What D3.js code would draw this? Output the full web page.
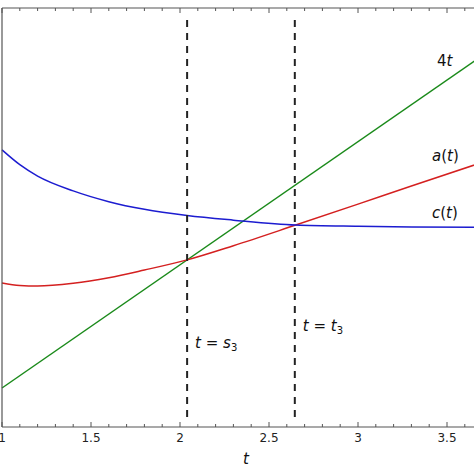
<!DOCTYPE html><html><head><meta charset="utf-8">
<script src="https://cdn.jsdelivr.net/npm/d3@7"></script>
<style>body{margin:0;background:#fff}text{font-family:"DejaVu Sans",sans-serif}</style></head><body>
<svg id="c" width="474" height="474"></svg>
<script>
const tA = [1,1.1,1.2,1.4,1.6,1.8,2.04,2.3,2.65,3.0,3.3,3.7];
const aVals = [7.41,7.33,7.31,7.40,7.58,7.83,8.16,8.62,9.29,9.97,10.56,11.33];
const cVals = [11.73,11.25,10.88,10.40,10.05,9.80,9.60,9.45,9.29,9.25,9.23,9.22];
const lineT = [1,3.7];
const xTicks = [1,1.5,2,2.5,3,3.5];
const vLines = [{t:2.04,label:"s"},{t:2.645,label:"t"}];

const svg = d3.select("#c");
const x = d3.scaleLinear().domain([1,3.5]).range([2,447]);
const y = d3.scaleLinear().domain([4,16]).range([388,18.4]);
const yTop=8, yBot=427;
svg.append("clipPath").attr("id","cp").append("rect").attr("x",0).attr("y",yTop).attr("width",474).attr("height",yBot-yTop);
const line = d3.line().x(d=>x(d[0])).y(d=>y(d[1])).curve(d3.curveMonotoneX);
const pl = svg.append("g").attr("clip-path","url(#cp)");
pl.append("path").attr("d",line(lineT.map(t=>[t,4*t]))).attr("stroke","#1a8a1a").attr("fill","none").attr("stroke-width",1.5);
pl.append("path").attr("d",line(tA.map((t,i)=>[t,aVals[i]]))).attr("stroke","#d42020").attr("fill","none").attr("stroke-width",1.5);
pl.append("path").attr("d",line(tA.map((t,i)=>[t,cVals[i]]))).attr("stroke","#1c1cd0").attr("fill","none").attr("stroke-width",1.5);
vLines.forEach(v=>{
  svg.append("line").attr("x1",x(v.t)).attr("x2",x(v.t)).attr("y1",yTop+12).attr("y2",yBot-8)
    .attr("stroke","#222").attr("stroke-width",2).attr("stroke-dasharray","7,6");
});
svg.append("line").attr("x1",2).attr("x2",474).attr("y1",yTop).attr("y2",yTop).attr("stroke","#555").attr("stroke-width",1.2);
svg.append("line").attr("x1",2).attr("x2",474).attr("y1",yBot).attr("y2",yBot).attr("stroke","#555").attr("stroke-width",1.2);
svg.append("line").attr("x1",2).attr("x2",2).attr("y1",yTop).attr("y2",yBot).attr("stroke","#555").attr("stroke-width",1.2);
const minor = d3.range(10,37).map(d=>d/10);
minor.forEach(t=>{
  const major = xTicks.some(m=>Math.abs(m-t)<1e-9);
  const l = major?5:3;
  svg.append("line").attr("x1",x(t)).attr("x2",x(t)).attr("y1",yBot).attr("y2",yBot-l).attr("stroke","#555");
  svg.append("line").attr("x1",x(t)).attr("x2",x(t)).attr("y1",yTop).attr("y2",yTop+l).attr("stroke","#555");
});
xTicks.forEach(t=>svg.append("text").attr("x",x(t)).attr("y",442).attr("text-anchor","middle").attr("font-size",12).attr("fill","#222").text(t));
const serif = s=>s.attr("font-family","'DejaVu Serif',serif").attr("font-size",15).attr("fill","#111");
serif(svg.append("text").attr("x",246).attr("y",464).attr("text-anchor","middle").attr("font-style","italic").text("t"));
const lab=(px,py,parts)=>{const t=serif(svg.append("text").attr("x",px).attr("y",py));parts.forEach(p=>{const s=t.append("tspan").text(p[0]);if(p[1])s.attr("font-style","italic");});};
lab(437,66,[["4"],["t",1]]);
lab(432,161,[["a",1],["("],["t",1],[")"]]);
lab(432,218,[["c",1],["("],["t",1],[")"]]);
vLines.forEach((v,i)=>{const t=serif(svg.append("text").attr("x",x(v.t)+8).attr("y",i?331:348));t.append("tspan").attr("font-style","italic").text("t");t.append("tspan").text(" = ");t.append("tspan").attr("font-style","italic").text(v.label);t.append("tspan").attr("font-size",10).attr("dy",3).text("3");});
</script></body></html>
